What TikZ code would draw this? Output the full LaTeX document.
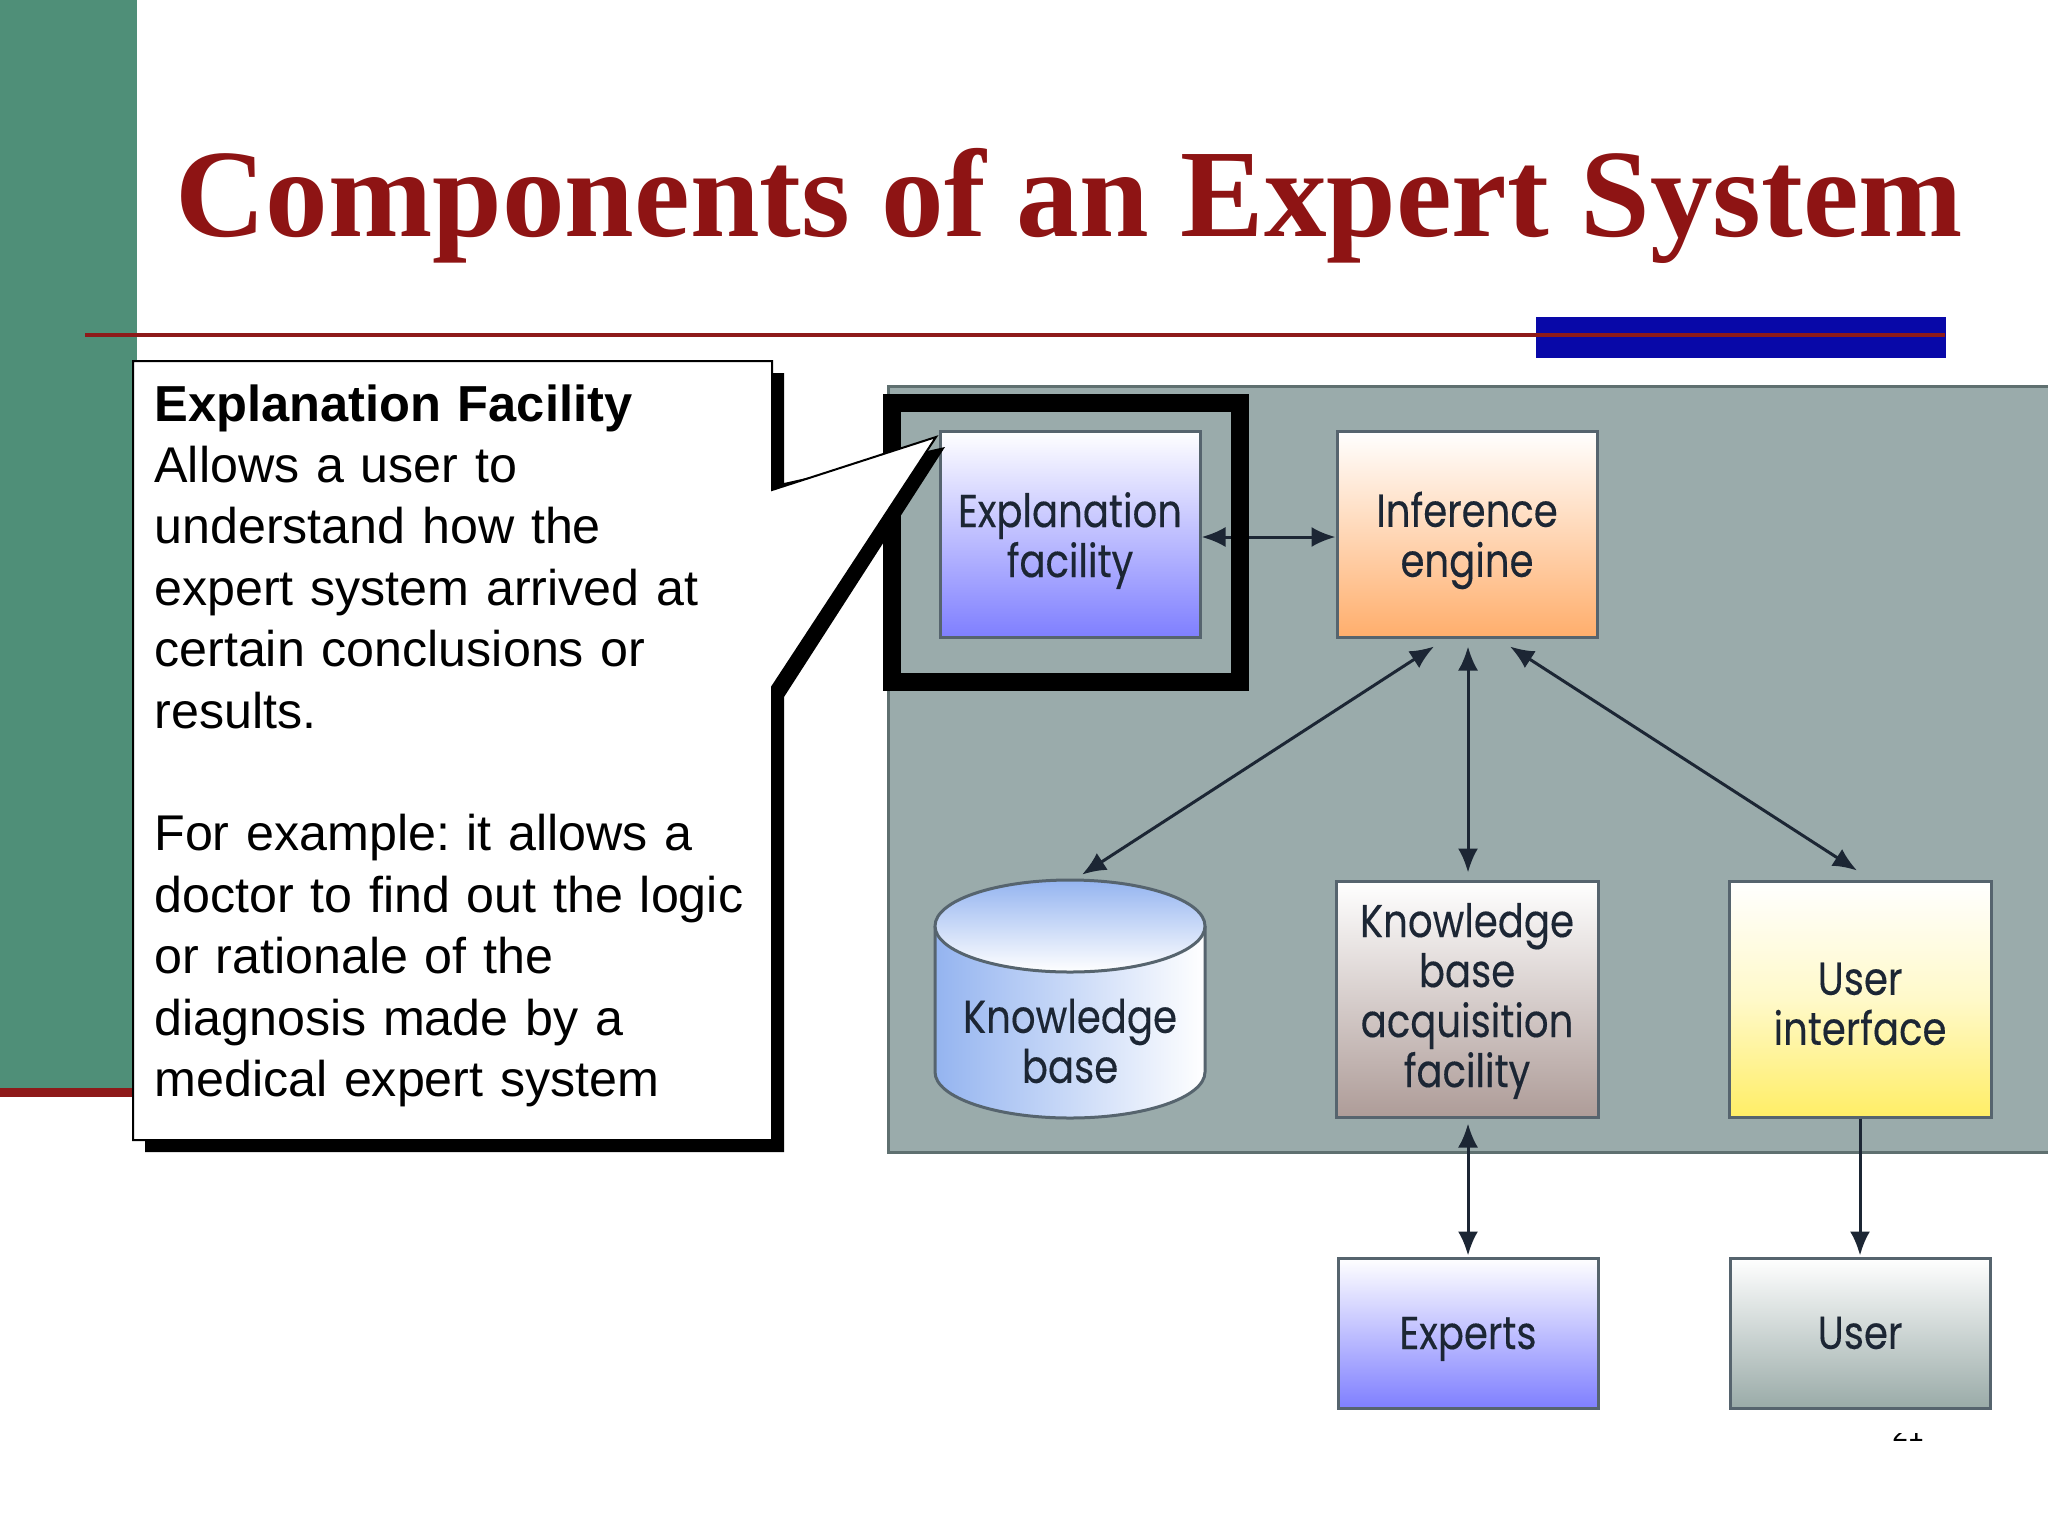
\documentclass[tikz,border=0pt]{standalone}
\usepackage{fontspec}
\setmainfont{Liberation Sans}
\newfontfamily\titlefont{Liberation Serif}
\newfontfamily\boxfont[FakeStretch=0.84,FakeBold=0.25]{Poppins}
\usetikzlibrary{arrows.meta,calc}
\definecolor{slidegreen}{HTML}{4F8F78}
\definecolor{sliderule}{HTML}{8E1A1A}
\definecolor{titlered}{HTML}{8E1414}
\definecolor{slideblue}{HTML}{0808A8}
\definecolor{panelgray}{HTML}{9AABAB}
\definecolor{paneledge}{HTML}{5F7070}
\definecolor{boxedge}{HTML}{56646E}
\definecolor{inkdark}{HTML}{1C2634}
\definecolor{violetend}{HTML}{7F7FFF}
\definecolor{orangeend}{HTML}{FFAE6C}
\definecolor{brownend}{HTML}{AE9C98}
\definecolor{yellowend}{HTML}{FFEE66}
\definecolor{grayend}{HTML}{9AABA8}
\definecolor{cylblue}{HTML}{94B4F0}
\tikzset{
  diagbox/.style={draw=boxedge,line width=1.5pt,inner sep=0pt,align=center,
    font=\boxfont\fontsize{23}{25}\selectfont,text=inkdark},
  shortbox/.style={diagbox,minimum width=130pt,minimum height=75pt},
  midbox/.style={diagbox,minimum width=130pt,minimum height=103pt},
  tallbox/.style={diagbox,minimum width=131pt,minimum height=118pt},
  linkline/.style={draw=inkdark,line width=1.5pt},
  both/.style={linkline,{Latex[length=12pt,width=10pt]}-{Latex[length=12pt,width=10pt]}},
  single/.style={linkline,-{Latex[length=12pt,width=10pt]}},
  bodytext/.style={anchor=north west,inner sep=0pt,align=left,text width=315pt,
    font=\fontsize{25.1}{30.7}\selectfont\frenchspacing,text=black}
}
\begin{document}
\begin{tikzpicture}[x=0.5pt,y=-0.5pt]
\useasboundingbox[fill=white] (0,0) rectangle (2048,1536);
% slide furniture
\fill[slidegreen] (0,0) rectangle (137,1088);
\fill[slideblue] (1536,317) rectangle (1946,358);
\fill[sliderule] (85,333) rectangle (1945,337);
\fill[sliderule] (0,1088) rectangle (140,1097);
\node[anchor=base west,inner sep=0pt,text=titlered,font=\titlefont\bfseries\fontsize{62.6}{70}\selectfont] (title) at (175,236) {Components of an Expert System};
% page number, cut off by the pasted picture
\begin{scope}
\clip (1880,1433) rectangle (1940,1446);
\node[anchor=base,inner sep=0pt,font=\fontsize{14}{16}\selectfont] (page) at (1908,1441) {21};
\end{scope}
% panel
\draw[fill=panelgray,draw=paneledge,line width=1.5pt] (888,386) rectangle (2060,1152);
% boxes
\node[midbox,top color=white,bottom color=violetend] (ex) at (1070,534) {\rule{0pt}{24pt}Explanation\\facility};
\node[midbox,top color=white,bottom color=orangeend] (ie) at (1467,534) {\rule{0pt}{24pt}Inference\\engine};
\node[tallbox,top color=white,bottom color=brownend,middle color=white!50!brownend] (ka) at (1467,999) {\rule{0pt}{19pt}Knowledge\\base\\acquisition\\facility};
\node[tallbox,top color=white,bottom color=yellowend,middle color=white!65!yellowend] (ui) at (1860,999) {\rule{0pt}{21pt}User\\interface};
\node[shortbox,top color=white,bottom color=violetend] (xp) at (1468,1333) {\rule{0pt}{22pt}Experts};
\node[shortbox,top color=white,bottom color=grayend] (us) at (1860,1333) {User};
% cylinder
\path[left color=cylblue,right color=white] (935,926) -- (935,1072) arc[start angle=180,end angle=0,x radius=135,y radius=46] -- (1205,926) -- cycle;
\draw[boxedge,line width=1.5pt] (935,926) -- (935,1072) arc[start angle=180,end angle=0,x radius=135,y radius=46] -- (1205,926);
\draw[boxedge,line width=1.5pt,top color=cylblue,bottom color=white] (1070,926) ellipse[x radius=135,y radius=46];
\node[inner sep=0pt,minimum width=135pt,minimum height=119pt] (kb) at (1070,999) {};
\node[inner sep=0pt,align=center,font=\boxfont\fontsize{23}{25}\selectfont,text=inkdark] (kbtext) at (1070,1041) {Knowledge\\base};
% connectors
\draw[both] ([yshift=-1.5pt]ex.east) -- ([yshift=-1.5pt]ie.west);
\draw[both] ([shift={(12,-5)}]kb.north) -- ([shift={(-33,8)}]ie.south);
\draw[both] ([shift={(1,8)}]ie.south) -- ([shift={(1,-7)}]ka.north);
\draw[both] ([shift={(43,8)}]ie.south) -- ([shift={(-3,-9)}]ui.north);
\draw[both] ([shift={(1,5)}]ka.south) -- ([shift={(0,-1)}]xp.north);
\draw[single] (ui.south) -- ([shift={(0,-1)}]us.north);
% highlight frame
\draw[black,line width=9pt] (892,403) rectangle (1240,682);
% callout
\fill[black] (145,373) -- (784,373) -- (784,483) -- (945,447) -- (784,697) -- (784,1152) -- (145,1152) -- cycle;
\draw[fill=white,draw=black,line width=1pt] (133,361) -- (772,361) -- (772,490) -- (936,437) -- (772,687) -- (772,1140) -- (133,1140) -- cycle;
\node[bodytext] (callout) at (154,384) {{\fontsize{25.3}{30.7}\selectfont\textbf{Explanation Facility}}\\Allows a user to\\understand how the\\expert system arrived at\\certain conclusions or\\results.\\[30.7pt]For example: it allows a\\doctor to find out the logic\\or rationale of the\\diagnosis made by a\\medical expert system};
\end{tikzpicture}
\end{document}
